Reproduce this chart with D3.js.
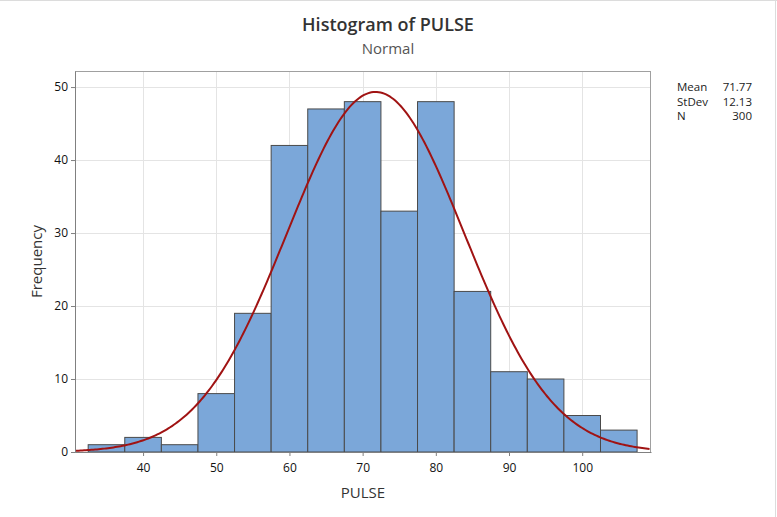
<!DOCTYPE html>
<html>
<head>
<meta charset="utf-8">
<script src="https://cdn.jsdelivr.net/npm/d3@7"></script>
<style>
  body { margin: 0; background: #fff; }
  svg { display: block; font-family: "Open Sans", "Noto Sans", sans-serif; }
</style>
</head>
<body>
<div id="chart"></div>
<script>
// histogram bins (midpoints) and counts
const binMids = [35, 40, 45, 50, 55, 60, 65, 70, 75, 80, 85, 90, 95, 100, 105];
const counts  = [1, 2, 1, 8, 19, 42, 47, 48, 33, 48, 22, 11, 10, 5, 3];
const binWidth = 5;
const xTicks = [40, 50, 60, 70, 80, 90, 100];
const yTicks = [0, 10, 20, 30, 40, 50];
const statLabels = ["Mean", "StDev", "N"];
const statValues = ["71.77", "12.13", "300"];
const mean = 71.77, sd = 12.13, n = 300;

const width = 777, height = 517;
const margin = { top: 71, right: 126, bottom: 65, left: 75 };
const innerW = width - margin.left - margin.right;
const innerH = height - margin.top - margin.bottom;

const svg = d3.select("#chart").append("svg")
  .attr("width", width)
  .attr("height", height);

// faint outer frame (top and right edges visible)
svg.append("line").attr("x1", 0).attr("x2", width).attr("y1", 0.5).attr("y2", 0.5)
  .attr("stroke", "#dcdcdc");
svg.append("line").attr("x1", width - 1.5).attr("x2", width - 1.5).attr("y1", 0).attr("y2", height)
  .attr("stroke", "#dcdcdc");

const x = d3.scaleLinear().domain([30.7, 109.4]).range([0, innerW]);
const y = d3.scaleLinear().domain([0, 52.2]).range([innerH, 0]);

const g = svg.append("g").attr("transform", `translate(${margin.left},${margin.top})`);

// gridlines
g.selectAll("line.vgrid").data(xTicks).enter().append("line")
  .attr("class", "vgrid")
  .attr("x1", d => Math.round(x(d)) + 0.5).attr("x2", d => Math.round(x(d)) + 0.5)
  .attr("y1", 0).attr("y2", innerH)
  .attr("stroke", "#e4e4e4").attr("stroke-width", 1);
g.selectAll("line.hgrid").data(yTicks.slice(1)).enter().append("line")
  .attr("class", "hgrid")
  .attr("x1", 0).attr("x2", innerW)
  .attr("y1", d => Math.round(y(d)) + 0.5).attr("y2", d => Math.round(y(d)) + 0.5)
  .attr("stroke", "#e4e4e4").attr("stroke-width", 1);

// bars
g.selectAll("rect.bar").data(binMids).enter().append("rect")
  .attr("class", "bar")
  .attr("x", d => x(d - binWidth / 2))
  .attr("width", d => x(d + binWidth / 2) - x(d - binWidth / 2))
  .attr("y", (d, i) => y(counts[i]))
  .attr("height", (d, i) => innerH - y(counts[i]))
  .attr("fill", "#7ba7d9")
  .attr("stroke", "#4a4a4a")
  .attr("stroke-width", 1);

// fitted normal curve
const pdf = v => n * binWidth * Math.exp(-0.5 * ((v - mean) / sd) ** 2) / (sd * Math.sqrt(2 * Math.PI));
const curvePts = d3.range(x.domain()[0], x.domain()[1] + 0.01, 0.25);
g.append("path")
  .datum(curvePts)
  .attr("fill", "none")
  .attr("stroke", "#a01313")
  .attr("stroke-width", 2)
  .attr("d", d3.line().x(d => x(d)).y(d => y(pdf(d))));

// plot frame
g.append("rect")
  .attr("x", 0.5).attr("y", 0.5)
  .attr("width", innerW - 1).attr("height", innerH)
  .attr("fill", "none").attr("stroke", "#a0a0a0");

// axes
const xAxis = g.append("g")
  .attr("transform", `translate(0,${innerH})`)
  .call(d3.axisBottom(x).tickValues(xTicks).tickSize(4).tickSizeOuter(0));
const yAxis = g.append("g")
  .call(d3.axisLeft(y).tickValues(yTicks).tickSize(4).tickSizeOuter(0));
[xAxis, yAxis].forEach(a => {
  a.select(".domain").attr("stroke", "#808080");
  a.selectAll(".tick line").attr("stroke", "#808080");
  a.selectAll(".tick text").attr("fill", "#111").style("font-size", "12px")
    .style("font-family", "'Open Sans', 'Noto Sans', sans-serif");
});
xAxis.selectAll(".tick text").attr("dy", "1.05em");

// titles
svg.append("text").attr("x", 388).attr("y", 31).attr("text-anchor", "middle")
  .attr("fill", "#333").style("font-size", "18px").style("font-weight", "600")
  .text("Histogram of PULSE");
svg.append("text").attr("x", 388).attr("y", 54).attr("text-anchor", "middle")
  .attr("fill", "#555").style("font-size", "15px").text("Normal");
svg.append("text").attr("x", margin.left + innerW / 2).attr("y", 498).attr("text-anchor", "middle")
  .attr("fill", "#333").style("font-size", "15px").text("PULSE");
svg.append("text")
  .attr("transform", `translate(42,${margin.top + innerH / 2}) rotate(-90)`)
  .attr("text-anchor", "middle")
  .attr("fill", "#333").style("font-size", "15px").text("Frequency");

// stats box
const stats = svg.append("g").style("font-size", "11.5px").attr("fill", "#222");
stats.selectAll("text.lab").data(statLabels).enter().append("text")
  .attr("class", "lab")
  .attr("x", 677).attr("y", (d, i) => 91 + i * 14.5)
  .text(d => d);
stats.selectAll("text.val").data(statValues).enter().append("text")
  .attr("class", "val")
  .attr("x", 752).attr("y", (d, i) => 91 + i * 14.5)
  .attr("text-anchor", "end")
  .text(d => d);
</script>
</body>
</html>
